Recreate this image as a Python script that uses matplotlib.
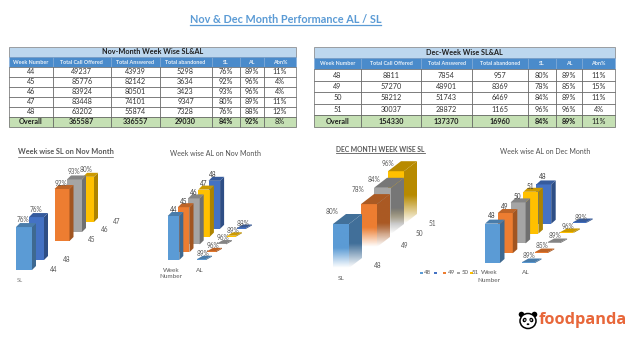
import matplotlib
matplotlib.use("Agg")
import matplotlib.pyplot as plt
import numpy as np
from matplotlib.colors import to_rgb
from matplotlib.patches import Circle, Ellipse, Polygon, Rectangle

plt.rcParams["font.family"] = ["Lato", "DejaVu Sans"]

# table data
columns = ["Week Number", "Total Call Offered", "Total Answered", "Total abandoned", "SL", "AL", "Abn%"]

nov_weeks = [44, 45, 46, 47, 48]
nov_offered = [49237, 85776, 83924, 83448, 63202]
nov_answered = [43939, 82142, 80501, 74101, 55874]
nov_abandoned = [5298, 3634, 3423, 9347, 7328]
nov_sl = [76, 92, 93, 80, 76]
nov_al = [89, 96, 96, 89, 88]
nov_abn = [11, 4, 4, 11, 12]
nov_overall = ["Overall", "365587", "336557", "29030", "84%", "92%", "8%"]

dec_weeks = [48, 49, 50, 51]
dec_offered = [8811, 57270, 58212, 30037]
dec_answered = [7854, 48901, 51743, 28872]
dec_abandoned = [957, 8369, 6469, 1165]
dec_sl = [80, 78, 84, 96]
dec_al = [89, 85, 89, 96]
dec_abn = [11, 15, 11, 4]
dec_overall = ["Overall", "154330", "137370", "16960", "84%", "89%", "11%"]

# second Al chart on Dec has five bars in the picture, last one repeats 48 / 89%
dec_al_weeks = [48, 49, 50, 51, 48]
dec_al_vals = [89, 85, 89, 96, 89]

BLUE = "#5B9BD5"
ORANGE = "#ED7D31"
GRAY = "#A5A5A5"
YELLOW = "#FFC000"
NAVY = "#4472C4"
TXT = "#404040"
LBL = "#595959"

fig = plt.figure(figsize=(6.38, 3.59), dpi=100)
ax = fig.add_axes([0, 0, 1, 1])
ax.axis("off")


def shade(color, k):
    return tuple(c * k for c in to_rgb(color))


def faded_face(pts, color):
    # vertical fade to white for the Dec SL bars
    poly = Polygon(pts, closed=True, fc="none", ec="none", transform=ax.transData)
    ax.add_patch(poly)
    xs = [p[0] for p in pts]
    ys = [p[1] for p in pts]
    grad = np.zeros((64, 2, 4))
    grad[:, :, :3] = to_rgb(color)
    grad[:, :, 3] = np.clip(2.2 * (1 - np.linspace(0, 1, 64)[:, None]), 0, 1)
    im = ax.imshow(grad, extent=(min(xs), max(xs), max(ys), min(ys)), aspect="auto", zorder=1)
    im.set_clip_path(poly)


def bar3d(x, base, h, w, dx, dy, color, fade=False):
    top = base - h
    front = [(x, base), (x + w, base), (x + w, top), (x, top)]
    side = [(x + w, base), (x + w + dx, base - dy), (x + w + dx, top - dy), (x + w, top)]
    cap = [(x, top), (x + w, top), (x + w + dx, top - dy), (x + dx, top - dy)]
    if fade:
        faded_face(front, color)
        faded_face(side, shade(color, 0.72))
        ax.add_patch(Polygon(cap, fc=shade(color, 0.72), ec="none", zorder=1))
    else:
        ax.add_patch(Polygon(front, fc=color, ec="none", zorder=1))
        ax.add_patch(Polygon(side, fc=shade(color, 0.68), ec="none", zorder=1))
        ax.add_patch(Polygon(cap, fc=shade(color, 0.8), ec="none", zorder=1))


def label(x, y, s, size=4.7, color=LBL, **kw):
    ax.text(x, y, s, fontsize=size, color=color, ha="center", va="center", **kw)


def table(title, rows, overall, xs, ys):
    x0, x1 = xs[0], xs[-1]
    ax.add_patch(Rectangle((x0, ys[0]), x1 - x0, ys[1] - ys[0], fc="#BDD7EE", ec="#7F7F7F", lw=0.5, zorder=2))
    ax.text((x0 + x1) / 2, (ys[0] + ys[1]) / 2, title, fontsize=5.2, weight="bold", color="#1F1F1F",
            ha="center", va="center", zorder=3)
    for i, col in enumerate(columns):
        ax.add_patch(Rectangle((xs[i], ys[1]), xs[i + 1] - xs[i], ys[2] - ys[1], fc="#4A8BCB", ec="#7FA9D6", lw=0.4, zorder=2))
        ax.text((xs[i] + xs[i + 1]) / 2, (ys[1] + ys[2]) / 2, col, fontsize=3.9, weight="bold", color="#E8F0F8",
                ha="center", va="center", zorder=3)
    all_rows = rows + [overall]
    for r, row in enumerate(all_rows):
        last = r == len(all_rows) - 1
        for i, val in enumerate(row):
            ax.add_patch(Rectangle((xs[i], ys[r + 2]), xs[i + 1] - xs[i], ys[r + 3] - ys[r + 2],
                                   fc="#C5E0B4" if last else "white", ec="#555555", lw=0.45, zorder=2))
            ax.text((xs[i] + xs[i + 1]) / 2, (ys[r + 2] + ys[r + 3]) / 2, str(val), fontsize=5.2,
                    weight="bold" if last and i < 6 else "normal", color="#1F1F1F" if last else "#333333",
                    ha="center", va="center", zorder=3)


def pct_rows(weeks, off, ans, abd, sl, al, abn):
    return [[w, o, a, b, f"{s}%", f"{l}%", f"{n}%"] for w, o, a, b, s, l, n in zip(weeks, off, ans, abd, sl, al, abn)]


# main title
ax.text(285.5, 19.5, "Nov & Dec Month Performance AL / SL", fontsize=7.8, weight="bold", color="#5B9BD5",
        ha="center", va="center")
ax.plot([190, 381], [25, 25], color="#5B9BD5", lw=0.9)

table("Nov-Month Week Wise SL&AL", pct_rows(nov_weeks, nov_offered, nov_answered, nov_abandoned, nov_sl, nov_al, nov_abn),
      nov_overall, [9, 53, 110.5, 159.5, 211.5, 239.5, 263.5, 296], [47, 57, 67, 77, 87, 97, 107, 117, 127])
table("Dec-Week Wise SL&AL", pct_rows(dec_weeks, dec_offered, dec_answered, dec_abandoned, dec_sl, dec_al, dec_abn),
      dec_overall, [314, 361, 421, 472, 528, 556, 582, 615], [47, 58, 69, 81, 92, 104, 115, 127])

# --- Week wise SL on Nov Month ---
label(65.5, 152, "Week wise SL on Nov Month", size=5.3, weight="bold")
ax.plot([18, 113], [156.5, 156.5], color=LBL, lw=0.5)
k = 0.565
nov_sl_colors = [BLUE, ORANGE, GRAY, YELLOW, NAVY]
pos_x = [16, 54.5, 67, 83, 29]
pos_base = [270, 241, 232, 222, 260]
pos_w = [16, 15, 15, 11, 15]
for i in [3, 2, 1, 4, 0]:
    bar3d(pos_x[i], pos_base[i], nov_sl[i] * k, pos_w[i], 4, 4, nov_sl_colors[i])
lab_x = [23, 61, 74, 86, 36]
lab_y = [220, 183, 172, 170, 210]
for i in range(5):
    label(lab_x[i], lab_y[i], f"{nov_sl[i]}%")
cat_x = [54, 92, 105, 117, 67]
cat_y = [269, 240, 230, 221, 259]
for i in range(5):
    label(cat_x[i], cat_y[i], nov_weeks[i])
label(20, 281, "SL", size=4.2, color="#7F7F7F")

# --- Week wise AL on Nov Month ---
label(215, 153, "Week wise AL on Nov Month", size=5.0, color="#505050")
for i in range(4, -1, -1):
    bx = 167.7 + 10.2 * i
    base = 260 - 7.8 * i
    bar3d(bx, base, nov_weeks[i], 11.6, 4, 4, nov_sl_colors[i])
for i in range(4, -1, -1):
    bx = 197 + 10 * i
    base = 260 - 7.8 * i
    bar3d(bx, base, nov_al[i] * 0.01, 9, 6, 3.4, nov_sl_colors[i])
    label(203 + 10 * i, 253 - 7.5 * i, f"{nov_al[i]}%")
    label(174 + 9.8 * i, 210 - 8.8 * i, nov_weeks[i], color=TXT)
label(171, 270, "Week", size=4.6)
label(171, 277, "Number", size=4.6)
label(200, 270, "AL", size=4.6)

# --- DEC MONTH WEEK WISE SL ---
label(380.5, 149, "DEC MONTH WEEK WISE SL", size=4.9, weight="bold")
ax.plot([336, 425], [153, 153], color=LBL, lw=0.6)
dec_colors = [BLUE, ORANGE, GRAY, YELLOW]
dec_x = [333, 361, 374, 388]
dec_base = [268, 247, 234, 224]
dec_w = [16, 16, 17, 16]
k = 0.55
for i in [3, 2, 1, 0]:
    bar3d(dec_x[i], dec_base[i], dec_sl[i] * k, dec_w[i], 13, 10, dec_colors[i], fade=True)
lab_x = [332, 358, 374, 388]
lab_y = [212, 190, 179, 163]
cat_x = [378, 405, 419, 432]
cat_y = [265, 245, 234, 224]
for i in range(4):
    label(lab_x[i], lab_y[i], f"{dec_sl[i]}%")
    label(cat_x[i], cat_y[i], dec_weeks[i])
label(341, 278, "SL", size=4.6)
# legend
leg_x = [421, 435, 444, 458, 471]
leg_c = [BLUE, NAVY, ORANGE, GRAY, YELLOW]
for xp, c in zip(leg_x, leg_c):
    ax.add_patch(Rectangle((xp - 1.5, 272), 3, 2, fc=c, ec="none"))
for xp, s in zip([427, 451, 465, 475.5], dec_weeks):
    label(xp, 273, s, size=4.4)

# --- Week wise AL on Dec Month ---
label(545, 151, "Week wise AL on Dec Month", size=5.0, color="#505050")
dec_al_colors = [BLUE, ORANGE, GRAY, YELLOW, NAVY]
for i in range(4, -1, -1):
    bx = 485 + 12.8 * i
    base = 263 - 9.8 * i
    bar3d(bx, base, dec_al_weeks[i] * 0.82, 15, 4.5, 4, dec_al_colors[i])
    label(492 + 12.8 * i, 216 - 9.8 * i, dec_al_weeks[i], color=TXT)
for i in range(4, -1, -1):
    bx = 522 + 12.8 * i
    base = 263 - 10 * i
    bar3d(bx, base, dec_al_vals[i] * 0.01, 13, 6.5, 3.6, dec_al_colors[i])
    label(529 + 13 * i, 255 - 9.5 * i, f"{dec_al_vals[i]}%")
label(489, 273, "Week", size=4.6)
label(489, 280, "Number", size=4.6)
label(526, 273, "AL", size=4.6)

# --- logo ---
cx, cy = 528, 321
ax.add_patch(Circle((cx - 6.5, cy - 6.5), 2.8, fc="black", ec="none", zorder=4))
ax.add_patch(Circle((cx + 6.5, cy - 6.5), 2.8, fc="black", ec="none", zorder=4))
ax.add_patch(Ellipse((cx, cy), 16, 15, fc="white", ec="black", lw=1.1, zorder=5))
ax.add_patch(Ellipse((cx - 3.4, cy - 1), 3.8, 4.6, angle=25, fc="black", ec="none", zorder=6))
ax.add_patch(Ellipse((cx + 3.4, cy - 1), 3.8, 4.6, angle=-25, fc="black", ec="none", zorder=6))
ax.add_patch(Circle((cx - 3.2, cy - 1), 0.8, fc="white", ec="none", zorder=7))
ax.add_patch(Circle((cx + 3.2, cy - 1), 0.8, fc="white", ec="none", zorder=7))
ax.add_patch(Ellipse((cx, cy + 3.2), 2.8, 1.8, fc="black", ec="none", zorder=6))
ax.text(583, 320.5, "foodpanda", fontsize=11.8, weight="bold", color="#E8673A", ha="center", va="center",
        family=["Open Sans", "DejaVu Sans"])

ax.set_xlim(0, 638)
ax.set_ylim(359, 0)
fig.savefig("out.png", dpi=100)
